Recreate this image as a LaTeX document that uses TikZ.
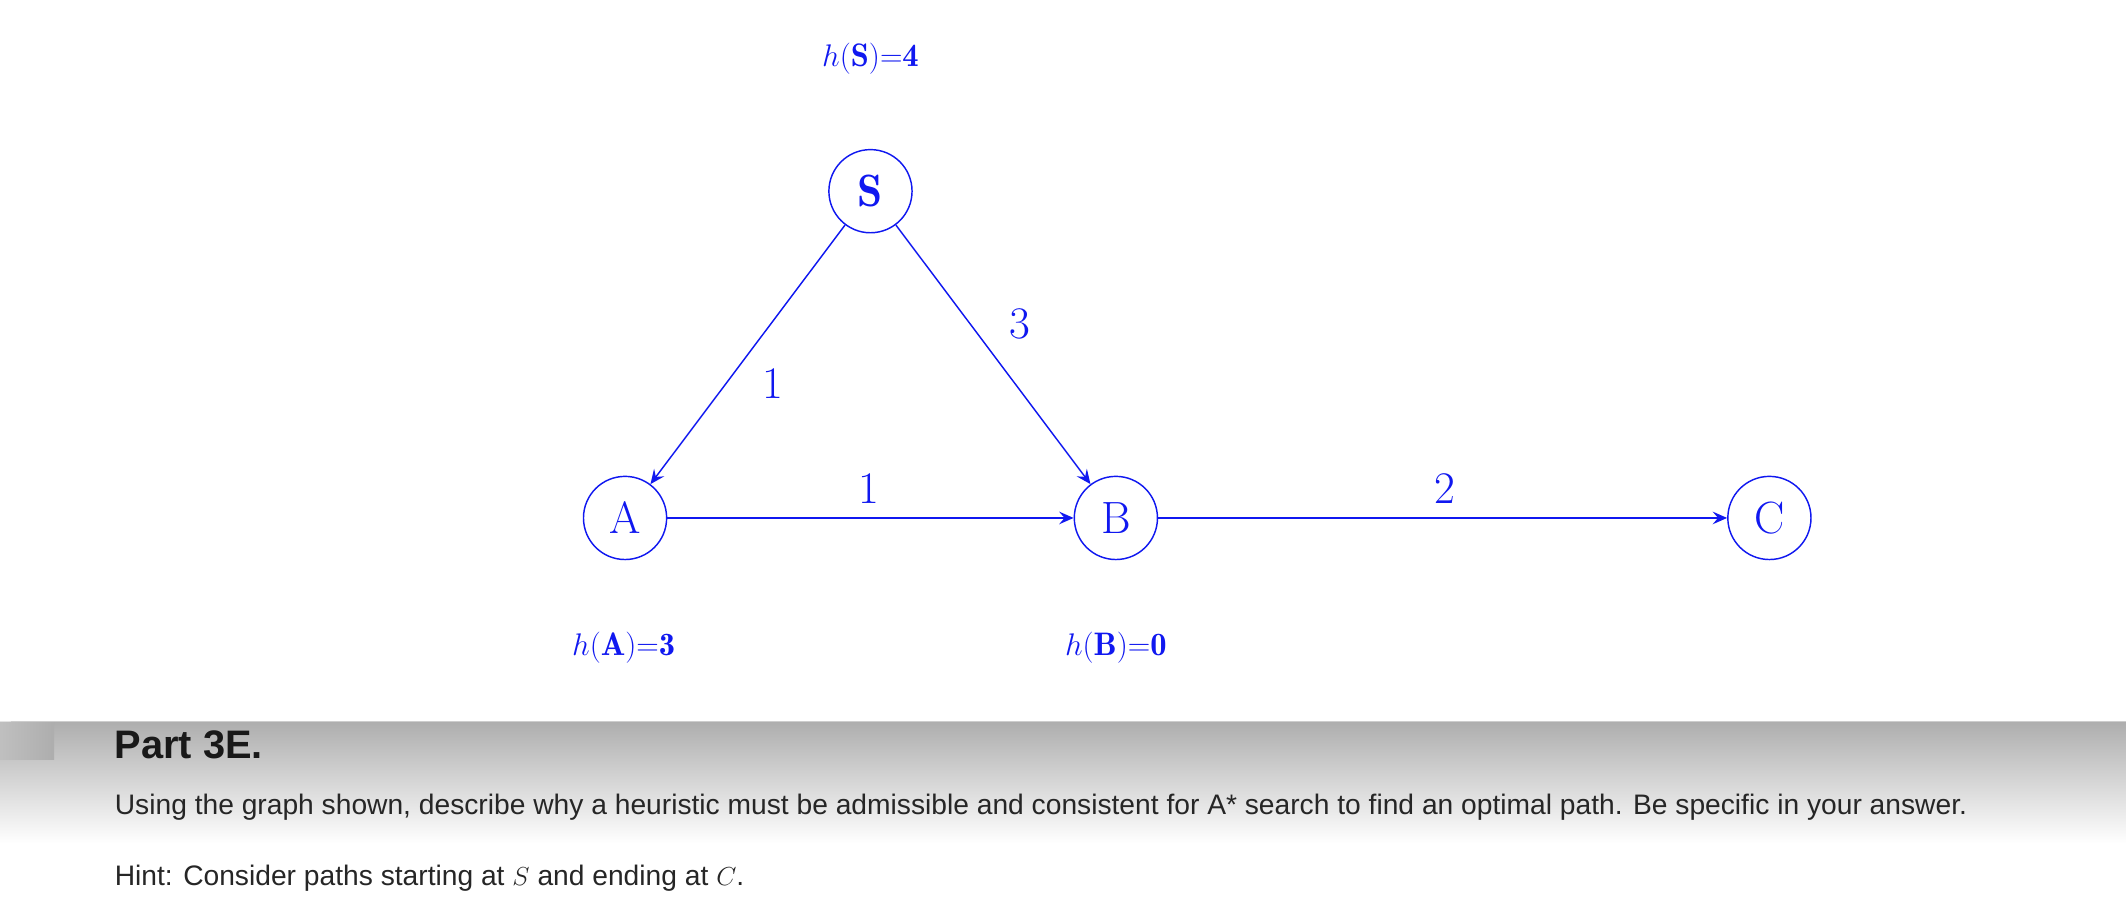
\documentclass[tikz,border=0pt]{standalone}
\usepackage{fontspec}
\newfontfamily\uisans{Liberation Sans}
\usetikzlibrary{arrows.meta}
\definecolor{gblue}{RGB}{16,24,240}
\begin{document}
\begin{tikzpicture}[x=0.75pt,y=-0.75pt,
  vtx/.style={circle,draw=gblue,line width=0.8pt,minimum size=46pt,inner sep=0pt,text=gblue,font=\fontsize{25}{28}\selectfont},
  hlab/.style={text=gblue,font=\fontsize{18}{20}\selectfont},
  elab/.style={text=gblue,font=\fontsize{25}{28}\selectfont},
  edge/.style={draw=gblue,line width=0.8pt,-{Stealth[length=8pt,width=7pt,inset=3pt]}},
  body/.style={anchor=west,text=black!85,font=\uisans\fontsize{15.6}{18}\selectfont}]
\useasboundingbox (0,0) rectangle (1568,672.6);
\fill[white] (0,0) rectangle (1568,672.6);
\shade[top color=black!32,bottom color=white] (0,532) rectangle (1568,622);
\shade[left color=black!25,right color=black!32] (0,520) rectangle (40,560);
\fill[white,rounded corners=10pt] (-20,-20) rectangle (1590,532);
\fill[white] (-20,-20) rectangle (1590,500);
\draw[black!30] (8,532) -- (1568,532);
\node[body,font=\uisans\bfseries\fontsize{22}{24}\selectfont,text=black!90] (part) at (80,549) {Part 3E.};
\node[body] (q) at (80,595) {Using the graph shown, describe why a heuristic must be admissible and consistent for A* search to find an optimal path. Be specific in your answer.};
\node[body] (hint) at (80,648) {Hint: Consider paths starting at $S$ and ending at $C$.};
\fill[white] (-20,-20) rectangle (1590,525);
\fill[white,rounded corners=10pt] (-20,-20) rectangle (1590,532);
\node[vtx] (S) at (642,141) {$\mathbf{S}$};
\node[vtx] (A) at (461,382) {A};
\node[vtx] (B) at (823,382) {B};
\node[vtx] (C) at (1305,382) {C};
\node[hlab] (hS) at (642,43) {$h(\mathbf{S}){=}\mathbf{4}$};
\node[hlab] (hA) at (460,478) {$h(\mathbf{A}){=}\mathbf{3}$};
\node[hlab] (hB) at (823,478) {$h(\mathbf{B}){=}\mathbf{0}$};
\draw[edge] (S) -- (A);
\draw[edge] (S) -- (B);
\draw[edge] (A) -- (B);
\draw[edge] (B) -- (C);
\node[elab] (l1) at (570,283) {1};
\node[elab] (l2) at (752,239) {3};
\node[elab] (l3) at (641,360) {1};
\node[elab] (l4) at (1066,360) {2};
\end{tikzpicture}
\end{document}
